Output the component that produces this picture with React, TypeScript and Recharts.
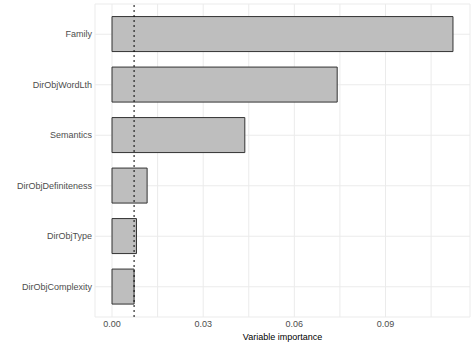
import React from 'react';
import { BarChart, Bar, XAxis, YAxis, CartesianGrid, ReferenceLine } from 'recharts';

const variables = ['Family', 'DirObjWordLth', 'Semantics', 'DirObjDefiniteness', 'DirObjType', 'DirObjComplexity'];
const importance = [0.1122, 0.0741, 0.0437, 0.01155, 0.00805, 0.00726];
const threshold = 0.00726;
const xTicks = [0, 0.015, 0.03, 0.045, 0.06, 0.075, 0.09, 0.105];
const xTickLabels = ['0.00', '', '0.03', '', '0.06', '', '0.09', ''];
const xDomain = [-0.0056, 0.1178];

const data = variables.map((name, i) => ({ name, value: importance[i] }));

const font = '"Liberation Sans", Arial, sans-serif';

export default function App() {
  return (
    <div style={{ position: 'absolute', left: 0, top: 0, background: '#fff' }}>
      <BarChart
        width={474}
        height={347}
        data={data}
        layout="vertical"
        margin={{ top: 4, right: 4, bottom: 0, left: 0 }}
        barCategoryGap="15%"
      >
        <CartesianGrid stroke="#EBEBEB" strokeWidth={1} />
        <XAxis
          type="number"
          domain={xDomain}
          allowDataOverflow
          ticks={xTicks}
          tickFormatter={(v: number, i: number) => xTickLabels[i] ?? ''}
          axisLine={false}
          tickLine={false}
          tickSize={0}
          tickMargin={4}
          height={30}
          tick={{ fontSize: 9, fill: '#4D4D4D', fontFamily: font }}
          label={{ value: 'Variable importance', position: 'insideBottom', offset: 7, fontSize: 9, fill: '#000', fontFamily: font }}
        />
        <YAxis
          type="category"
          dataKey="name"
          width={95}
          axisLine={false}
          tickLine={false}
          tickSize={0}
          tickMargin={3}
          padding={{ top: 5, bottom: 5 }}
          interval={0}
          tick={{ fontSize: 9, fill: '#4D4D4D', fontFamily: font }}
        />
        <Bar dataKey="value" fill="#BEBEBE" stroke="#333333" strokeWidth={1} isAnimationActive={false} />
        <ReferenceLine x={threshold} stroke="#000" strokeWidth={1} strokeDasharray="2 3" />
      </BarChart>
    </div>
  );
}
